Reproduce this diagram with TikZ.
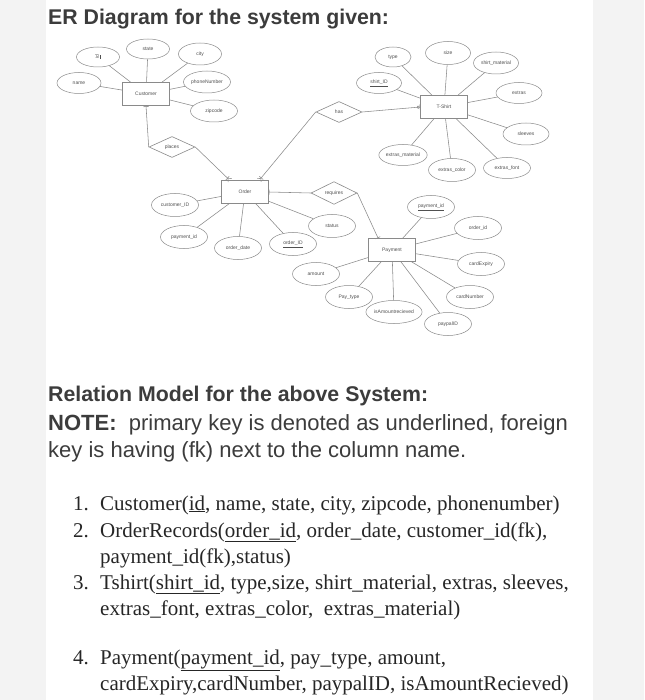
\documentclass[tikz,border=0pt]{standalone}
\usepackage{fontspec}
\setmainfont{Liberation Serif}
\setsansfont{Liberation Sans}
\usetikzlibrary{positioning,arrows.meta,shapes.geometric}

\definecolor{pagegray}{HTML}{F3F3F3}
\definecolor{linegray}{HTML}{8A8A8A}
\definecolor{ertext}{HTML}{505050}
\definecolor{headtext}{HTML}{3C3C3C}
\newcommand{\erfont}{\sffamily\fontsize{5}{6}\selectfont}
\newcommand{\headfont}{\sffamily\fontsize{21.3}{25}\selectfont}
\newcommand{\notefont}{\sffamily\fontsize{22}{26}\selectfont}
\newcommand{\listfont}{\rmfamily\fontsize{21}{26}\selectfont}

\begin{document}
\begin{tikzpicture}[x=1pt,y=-1pt,
  ent/.style={draw=linegray,line width=.6pt,minimum width=47pt,minimum height=23pt,inner sep=0pt,font=\erfont,text=ertext},
  attr/.style={draw=linegray,line width=.5pt,ellipse,minimum width=47pt,minimum height=22pt,inner sep=0pt,font=\erfont,text=ertext},
  rel/.style={draw=linegray,line width=.6pt,diamond,minimum width=46pt,minimum height=21pt,inner sep=0pt,font=\erfont,text=ertext},
  ln/.style={draw=linegray,line width=.55pt},
  head/.style={anchor=base west,inner sep=0pt,font=\notefont,text=headtext},
  item/.style={anchor=base west,inner sep=0pt,font=\listfont,text=black!85}]
\useasboundingbox (0,0) rectangle (644,700);
\fill[pagegray] (0,0) rectangle (644,700);
\fill[white] (46,0) rectangle (593,700);

% headings
\node[head,font=\headfont\bfseries] (ertitle) at (48,25) {ER Diagram for the system given:};
\node[head,font=\headfont\bfseries] (rmtitle) at (48,401) {Relation Model for the above System:};
\node[head] (note1) at (48,430) {\textbf{NOTE:}\ \ primary key is denoted as underlined, foreign};
\node[head] (note2) at (48,457) {key is having (fk) next to the column name.};

% entities and relations
\node[ent] (cust) at (146,94) {Customer};
\node[ent] (order) at (245,192) {Order};
\node[ent] (tshirt) at (444,107) {T-Shirt};
\node[ent] (payment) at (392,250) {Payment};
\node[rel] (places) at (172,147) {places};
\node[rel] (has) at (339,112) {has};
\node[rel] (requires) at (334,193) {requires};

% customer attributes
\node[attr,minimum width=43pt,minimum height=20pt] (cid) at (98,57) {\rotatebox{90}{\underline{id}}};
\node[attr,minimum width=43pt,minimum height=20pt] (cstate) at (148,49) {state};
\node[attr,minimum width=43pt] (ccity) at (200,54) {city};
\node[attr,minimum width=44pt,minimum height=21pt] (cname) at (79,83) {name};
\node[attr] (cphone) at (207,82) {phoneNumber};
\node[attr] (czip) at (214,111) {zipcode};

% order attributes
\node[attr,minimum height=23pt] (ocust) at (175,205) {customer\_ID};
\node[attr,minimum height=23pt] (opay) at (184,237) {payment\_id};
\node[attr,minimum height=23pt] (odate) at (238,248) {order\_date};
\node[attr,minimum height=23pt] (oid) at (293,244) {\underline{order\_ID}};
\node[attr,minimum height=23pt] (ostatus) at (332,226) {status};

% t-shirt attributes
\node[attr,minimum width=36pt,minimum height=20pt] (ttype) at (393,57) {type};
\node[attr,minimum width=45pt,minimum height=23pt] (tsize) at (448,53) {size};
\node[attr,minimum width=45pt] (tmat) at (496,63) {shirt\_material};
\node[attr,minimum width=45pt,minimum height=21pt] (tid) at (379,83) {\underline{shirt\_ID}};
\node[attr,minimum width=46pt,minimum height=21pt] (textras) at (519,93) {extras};
\node[attr,minimum width=46pt] (tsleeves) at (526,134) {sleeves};
\node[attr,minimum width=45pt,minimum height=21pt] (txmat) at (403,155) {extras\_material};
\node[attr,minimum height=23pt] (txcolor) at (452,170) {extras\_color};
\node[attr,minimum height=21pt] (txfont) at (507,168) {extras\_font};

% payment attributes
\node[attr,minimum height=23pt] (pid) at (431,207) {\underline{payment\_id}};
\node[attr,minimum height=23pt] (porder) at (478,228) {order\_id};
\node[attr,minimum height=23pt] (pexpiry) at (481,264) {cardExpiry};
\node[attr,minimum height=23pt] (pnumber) at (470,297) {cardNumber};
\node[attr,minimum height=23pt] (ppaypal) at (448,324) {paypalID};
\node[attr,minimum height=23pt] (precv) at (394,312) {isAmountrecieved};
\node[attr,minimum height=23pt] (ptype) at (349,297) {Pay\_type};
\node[attr,minimum height=23pt] (pamount) at (316,274) {amount};

\foreach \a in {cid,cstate,ccity,cname,cphone,czip} \draw[ln] (cust) -- (\a);
\foreach \a in {ocust,opay,odate,oid,ostatus} \draw[ln] (order) -- (\a);
\foreach \a in {ttype,tsize,tmat,tid,textras,tsleeves,txmat,txcolor,txfont} \draw[ln] (tshirt) -- (\a);
\foreach \a in {pid,porder,pexpiry,pnumber,ppaypal,precv,ptype,pamount} \draw[ln] (payment) -- (\a);

% relationships
\coordinate (ordA) at (230,180.5);
\coordinate (ordB) at (259,180.5);
\coordinate (paytop) at (378,238);
\draw[ln,{Bar[width=5pt]Bar[width=5pt]}-] (cust.south) -- (places.west);
\draw[ln,-{Bar[width=5pt]Straight Barb[reversed,length=2.5pt,width=5pt]}] (places.east) -- (ordA);
\draw[ln,-{Bar[width=5pt]Straight Barb[reversed,length=2.5pt,width=5pt]}] (has.west) -- (ordB);
\draw[ln,-{Circle[open,length=3pt]Bar[width=5pt]}] (has.east) -- (tshirt.west);
\draw[ln,{Bar[width=5pt]}-] (order.east) -- (requires.west);
\draw[ln,-{Bar[width=5pt]}] (requires.east) -- (paytop);

% relation model
\foreach \n/\y in {1/510,2/537,3/589,4/664} \node[item] (num\n) at (73,\y) {\n.};
\node[item] (l1) at (100,510) {Customer(\underline{id}, name, state, city, zipcode, phonenumber)};
\node[item] (l2a) at (100,537) {OrderRecords(\underline{order\_id}, order\_date, customer\_id(fk),};
\node[item] (l2b) at (100,563) {payment\_id(fk),status)};
\node[item] (l3a) at (100,589) {Tshirt(\underline{shirt\_id}, type,size, shirt\_material, extras, sleeves,};
\node[item] (l3b) at (100,615) {extras\_font, extras\_color, \ extras\_material)};
\node[item] (l4a) at (100,664) {Payment(\underline{payment\_id}, pay\_type, amount,};
\node[item] (l4b) at (100,690) {cardExpiry,cardNumber, paypalID, isAmountRecieved)};
\end{tikzpicture}
\end{document}
